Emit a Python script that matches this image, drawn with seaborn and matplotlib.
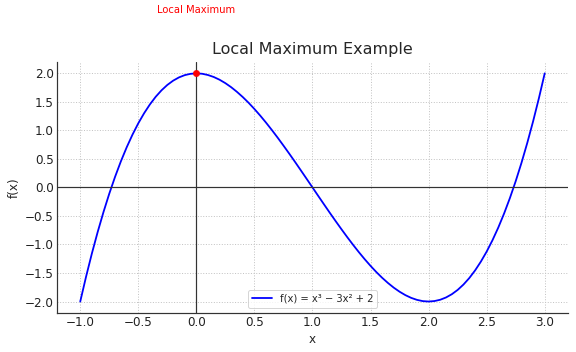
import matplotlib
matplotlib.use("Agg")
import matplotlib.pyplot as plt
import pandas as pd
import seaborn as sns

# values, step 0.05
x_vals = [-1.0, -0.95, -0.9, -0.85, -0.8, -0.75, -0.7, -0.65, -0.6, -0.55,
          -0.5, -0.45, -0.4, -0.35, -0.3, -0.25, -0.2, -0.15, -0.1, -0.05,
          0.0, 0.05, 0.1, 0.15, 0.2, 0.25, 0.3, 0.35, 0.4, 0.45,
          0.5, 0.55, 0.6, 0.65, 0.7, 0.75, 0.8, 0.85, 0.9, 0.95,
          1.0, 1.05, 1.1, 1.15, 1.2, 1.25, 1.3, 1.35, 1.4, 1.45,
          1.5, 1.55, 1.6, 1.65, 1.7, 1.75, 1.8, 1.85, 1.9, 1.95,
          2.0, 2.05, 2.1, 2.15, 2.2, 2.25, 2.3, 2.35, 2.4, 2.45,
          2.5, 2.55, 2.6, 2.65, 2.7, 2.75, 2.8, 2.85, 2.9, 2.95, 3.0]
y_vals = [-2.0, -1.565, -1.159, -0.782, -0.432, -0.109, 0.187, 0.458, 0.704, 0.926,
          1.125, 1.301, 1.456, 1.590, 1.703, 1.797, 1.872, 1.929, 1.969, 1.992,
          2.0, 1.993, 1.971, 1.936, 1.888, 1.828, 1.757, 1.675, 1.584, 1.484,
          1.375, 1.259, 1.136, 1.007, 0.873, 0.734, 0.592, 0.447, 0.299, 0.150,
          0.0, -0.150, -0.299, -0.447, -0.592, -0.734, -0.873, -1.007, -1.136, -1.259,
          -1.375, -1.484, -1.584, -1.675, -1.757, -1.828, -1.888, -1.936, -1.971, -1.993,
          -2.0, -1.992, -1.969, -1.929, -1.872, -1.797, -1.703, -1.590, -1.456, -1.301,
          -1.125, -0.926, -0.704, -0.458, -0.187, 0.109, 0.432, 0.782, 1.159, 1.565, 2.0]
max_x = [0.0]
max_y = [2.0]
label_xy = (0.0, 3.05)

curve = pd.DataFrame({"x": x_vals, "y": y_vals})
peak = pd.DataFrame({"x": max_x, "y": max_y})

sns.set_theme(style="whitegrid", context="notebook",
              rc={"grid.linestyle": ":", "grid.color": "#c4c4c4",
                  "axes.edgecolor": "#333333", "axes.linewidth": 1.2,
                  "xtick.color": "#222222", "ytick.color": "#222222"})
plt.rcParams["font.family"] = ["DejaVu Sans"]

fig, ax = plt.subplots(figsize=(8, 352 / 72), dpi=72)
sns.lineplot(data=curve, x="x", y="y", color="blue", lw=1.8,
             label="f(x) = x³ − 3x² + 2", ax=ax)
sns.scatterplot(data=peak, x="x", y="y", color="red", s=40, edgecolor="red",
                zorder=5, ax=ax)
ax.axhline(0, color="#333333", lw=1.2)
ax.axvline(0, color="#333333", lw=1.2)
ax.annotate("Local Maximum", xy=(max_x[0], max_y[0]), xytext=label_xy,
            color="red", ha="center", fontsize=10)

ax.set_title("Local Maximum Example", fontsize=16, pad=8)
ax.set_xlabel("x", fontsize=12)
ax.set_ylabel("f(x)", fontsize=12)
ax.tick_params(labelsize=12, length=0)
ax.spines["top"].set_visible(False)
ax.spines["right"].set_visible(False)
ax.legend(loc="lower center", fontsize=10)

fig.subplots_adjust(left=0.099, right=0.986, top=0.824, bottom=0.111)
fig.savefig("out.png", dpi=72)
